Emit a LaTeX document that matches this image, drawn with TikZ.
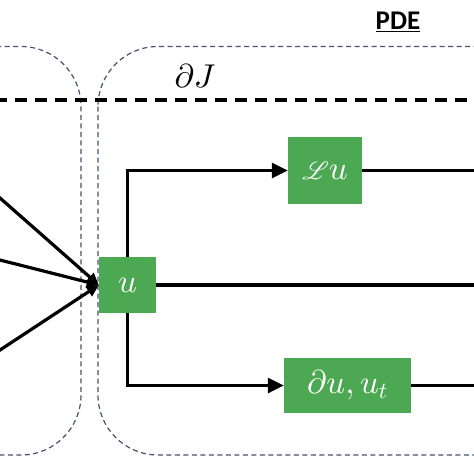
\documentclass[tikz,border=0pt]{standalone}
\usepackage{fontspec}
\usepackage{mathrsfs}
\usetikzlibrary{arrows.meta}
\DeclareFontShape{OML}{cmm}{m}{it}{<-> cmmi10}{}
\DeclareFontShape{OMS}{cmsy}{m}{n}{<-> cmsy10}{}
\DeclareFontShape{OT1}{cmr}{m}{n}{<-> cmr10}{}
\newfontfamily\carlito{Carlito}
\definecolor{boxgreen}{RGB}{77,168,83}
\definecolor{slate}{RGB}{68,84,106}
\tikzset{
  gbox/.style={fill=boxgreen, draw=none, inner sep=0pt, text=white, font=\fontsize{33}{40}\selectfont},
  conn/.style={line width=3.2pt, draw=black},
  arrowconn/.style={conn, -{Triangle[length=16pt,width=15pt]}},
  inarrow/.style={conn, -{Triangle[length=12pt,width=11pt]}},
  region/.style={draw=slate, line width=1.2pt, dash pattern=on 5pt off 3.5pt, rounded corners=60pt},
  boundary/.style={line width=3.6pt, dash pattern=on 12pt off 8pt, draw=black},
}
\begin{document}
\begin{tikzpicture}[x=1pt,y=-1pt]
\useasboundingbox (0,0) rectangle (474,474);
\clip (0,0) rectangle (474,474);
\fill[white] (0,0) rectangle (474,474);
% regions
\draw[region] (-120,46.5) rectangle (81,455);
\draw[region] (98,46.5) rectangle (620,455);
% boundary
\coordinate (bl) at (-5,100);
\coordinate (br) at (480,100);
\draw[boundary] (bl) -- (br);
\node (dJ) at (195,76) {\fontsize{33}{40}\selectfont $\partial J$};
\node (pde) at (398,22) {\carlito\bfseries\fontsize{27}{32}\selectfont \underline{PDE}};
% boxes
\node[gbox, minimum width=74pt, minimum height=67pt] (Lu) at (325,170.5) {$\mathscr{L}u$};
\node[gbox, minimum width=57pt, minimum height=56pt] (u) at (127.5,285) {$u$};
\node[gbox, minimum width=127pt, minimum height=55pt] (du) at (347.5,385.5) {$\partial u, u_t$};
% right edge
\coordinate (edge) at (490,0);
% inputs
\coordinate (a1) at (-10,189.2);
\coordinate (a2) at (-10,257.5);
\coordinate (a3) at (-10,356.6);
\draw[inarrow] (a1) -- (u.west);
\draw[inarrow] (a2) -- (u.west);
\draw[inarrow] (a3) -- (u.west);
% branches
\draw[arrowconn] (u.north) |- (Lu.west);
\draw[arrowconn] (u.south) |- (du.west);
\draw[conn] (Lu.east) -- (Lu.east -| edge);
\draw[conn] (u.east) -- (u.east -| edge);
\draw[conn] (du.east) -- (du.east -| edge);
\end{tikzpicture}
\end{document}
